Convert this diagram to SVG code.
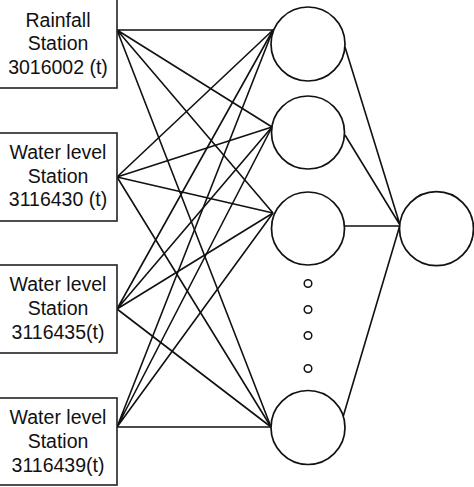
<svg xmlns="http://www.w3.org/2000/svg" width="474" height="487" viewBox="0 0 474 487">
<style>
.box{fill:#fff;stroke:#222;stroke-width:1.6}
.node{fill:#fff;stroke:#111;stroke-width:1.7}
.dot{fill:#fff;stroke:#111;stroke-width:1.5}
.edge{stroke:#111;stroke-width:1.6;fill:none}
text{font-family:"Liberation Sans",Arial,sans-serif;font-size:19.5px;fill:#111;text-anchor:middle}
</style>
<rect width="474" height="487" fill="#fff"/>
<g id="connectors">
<path class="edge" d="M117,30 L273,30 M117,30 L272,127 M117,30 L273,213 M117,30 L271,427"/>
<path class="edge" d="M117,177 L273,30 M117,177 L272,127 M117,177 L273,213 M117,177 L271,427"/>
<path class="edge" d="M117,309 L273,30 M117,309 L272,127 M117,309 L273,213 M117,309 L271,427"/>
<path class="edge" d="M117,427 L273,30 M117,427 L272,127 M117,427 L273,213 M117,427 L271,427"/>
<path class="edge" d="M345,47 L400,225 M345,135 L400,225 M345,226 L400,226 M343,417 L400,225"/>
</g>
<g id="input1">
<rect class="box" x="-2" y="-1" width="119" height="89"/>
<text x="58" y="26.7">Rainfall</text>
<text x="58" y="50.3">Station</text>
<text x="58" y="73.5">3016002 (t)</text>
</g>
<g id="input2">
<rect class="box" x="-2" y="133" width="119" height="88"/>
<text x="58" y="158.5">Water level</text>
<text x="58" y="182.5">Station</text>
<text x="58" y="206">3116430 (t)</text>
</g>
<g id="input3">
<rect class="box" x="-2" y="265" width="119" height="88"/>
<text x="58" y="291">Water level</text>
<text x="58" y="315">Station</text>
<text x="58" y="338.5">3116435(t)</text>
</g>
<g id="input4">
<rect class="box" x="-2" y="398" width="119" height="87"/>
<text x="58" y="424.3">Water level</text>
<text x="58" y="448.3">Station</text>
<text x="58" y="471.7">3116439(t)</text>
</g>
<g id="hidden1"><circle class="node" cx="308" cy="44" r="37"/></g>
<g id="hidden2"><circle class="node" cx="308" cy="132.5" r="36.5"/></g>
<g id="hidden3"><circle class="node" cx="308" cy="228.5" r="36.5"/></g>
<g id="ellipsis">
<circle class="dot" cx="308" cy="283.5" r="3.8"/>
<circle class="dot" cx="308" cy="309.5" r="3.8"/>
<circle class="dot" cx="308" cy="335.5" r="3.8"/>
<circle class="dot" cx="308" cy="368.5" r="3.8"/>
</g>
<g id="hidden4"><circle class="node" cx="308" cy="427.5" r="37"/></g>
<g id="output"><circle class="node" cx="436.5" cy="228.7" r="37"/></g>
</svg>
